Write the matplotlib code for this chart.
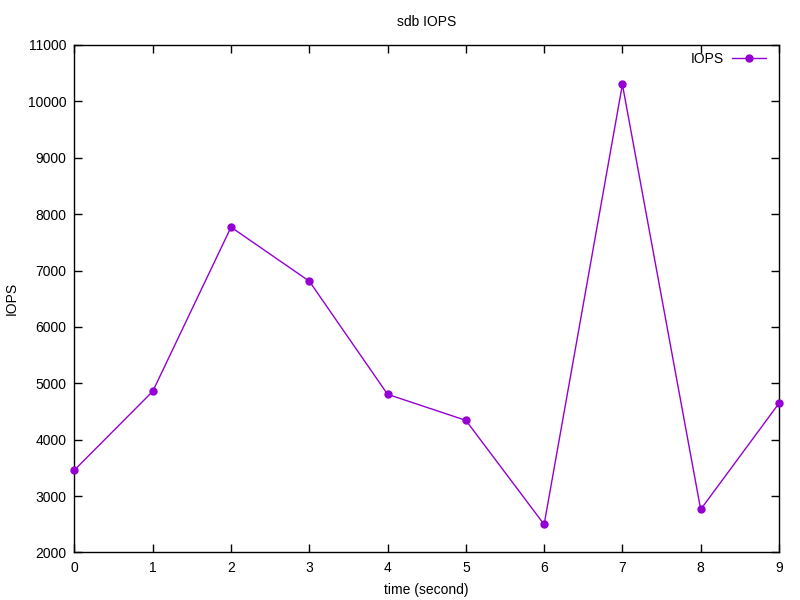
import numpy as np
import matplotlib
matplotlib.use("Agg")
import matplotlib.pyplot as plt

plt.rcParams['font.family'] = ['Liberation Sans', 'DejaVu Sans']

seconds = [0, 1, 2, 3, 4, 5, 6, 7, 8, 9]
iops = [3463, 4858, 7770, 6811, 4805, 4343, 2497, 10300, 2763, 4645]

purple = '#9400d3'

fig = plt.figure(figsize=(8, 6), dpi=100)
ax = fig.add_axes([0.0931, 0.0792, 0.8806, 0.8458])

ax.plot(seconds, iops, color=purple, lw=1, marker='o', ms=5, label='IOPS',
        clip_on=False, zorder=3)

ax.set_xlim(0, 9)
ax.set_ylim(2000, 11000)
ax.set_xticks(np.arange(0, 10, 1))
ax.set_yticks(np.arange(2000, 11001, 1000))
ax.tick_params(direction='in', top=True, right=True, labelsize=10, length=6,
               width=1, pad=6)
for s in ax.spines.values():
    s.set_linewidth(1)

ax.set_title('sdb IOPS', fontsize=10, pad=14)
ax.set_xlabel('time (second)', fontsize=10, labelpad=6)
ax.set_ylabel('IOPS', fontsize=10)
ax.yaxis.set_label_coords(-0.079, 0.5)

leg = ax.legend(loc='upper right', bbox_to_anchor=(1.0, 1.012), frameon=False,
                fontsize=10, markerfirst=False, handlelength=2.4,
                borderaxespad=0.55, handletextpad=0.65)

fig.savefig('out.png', dpi=100)
